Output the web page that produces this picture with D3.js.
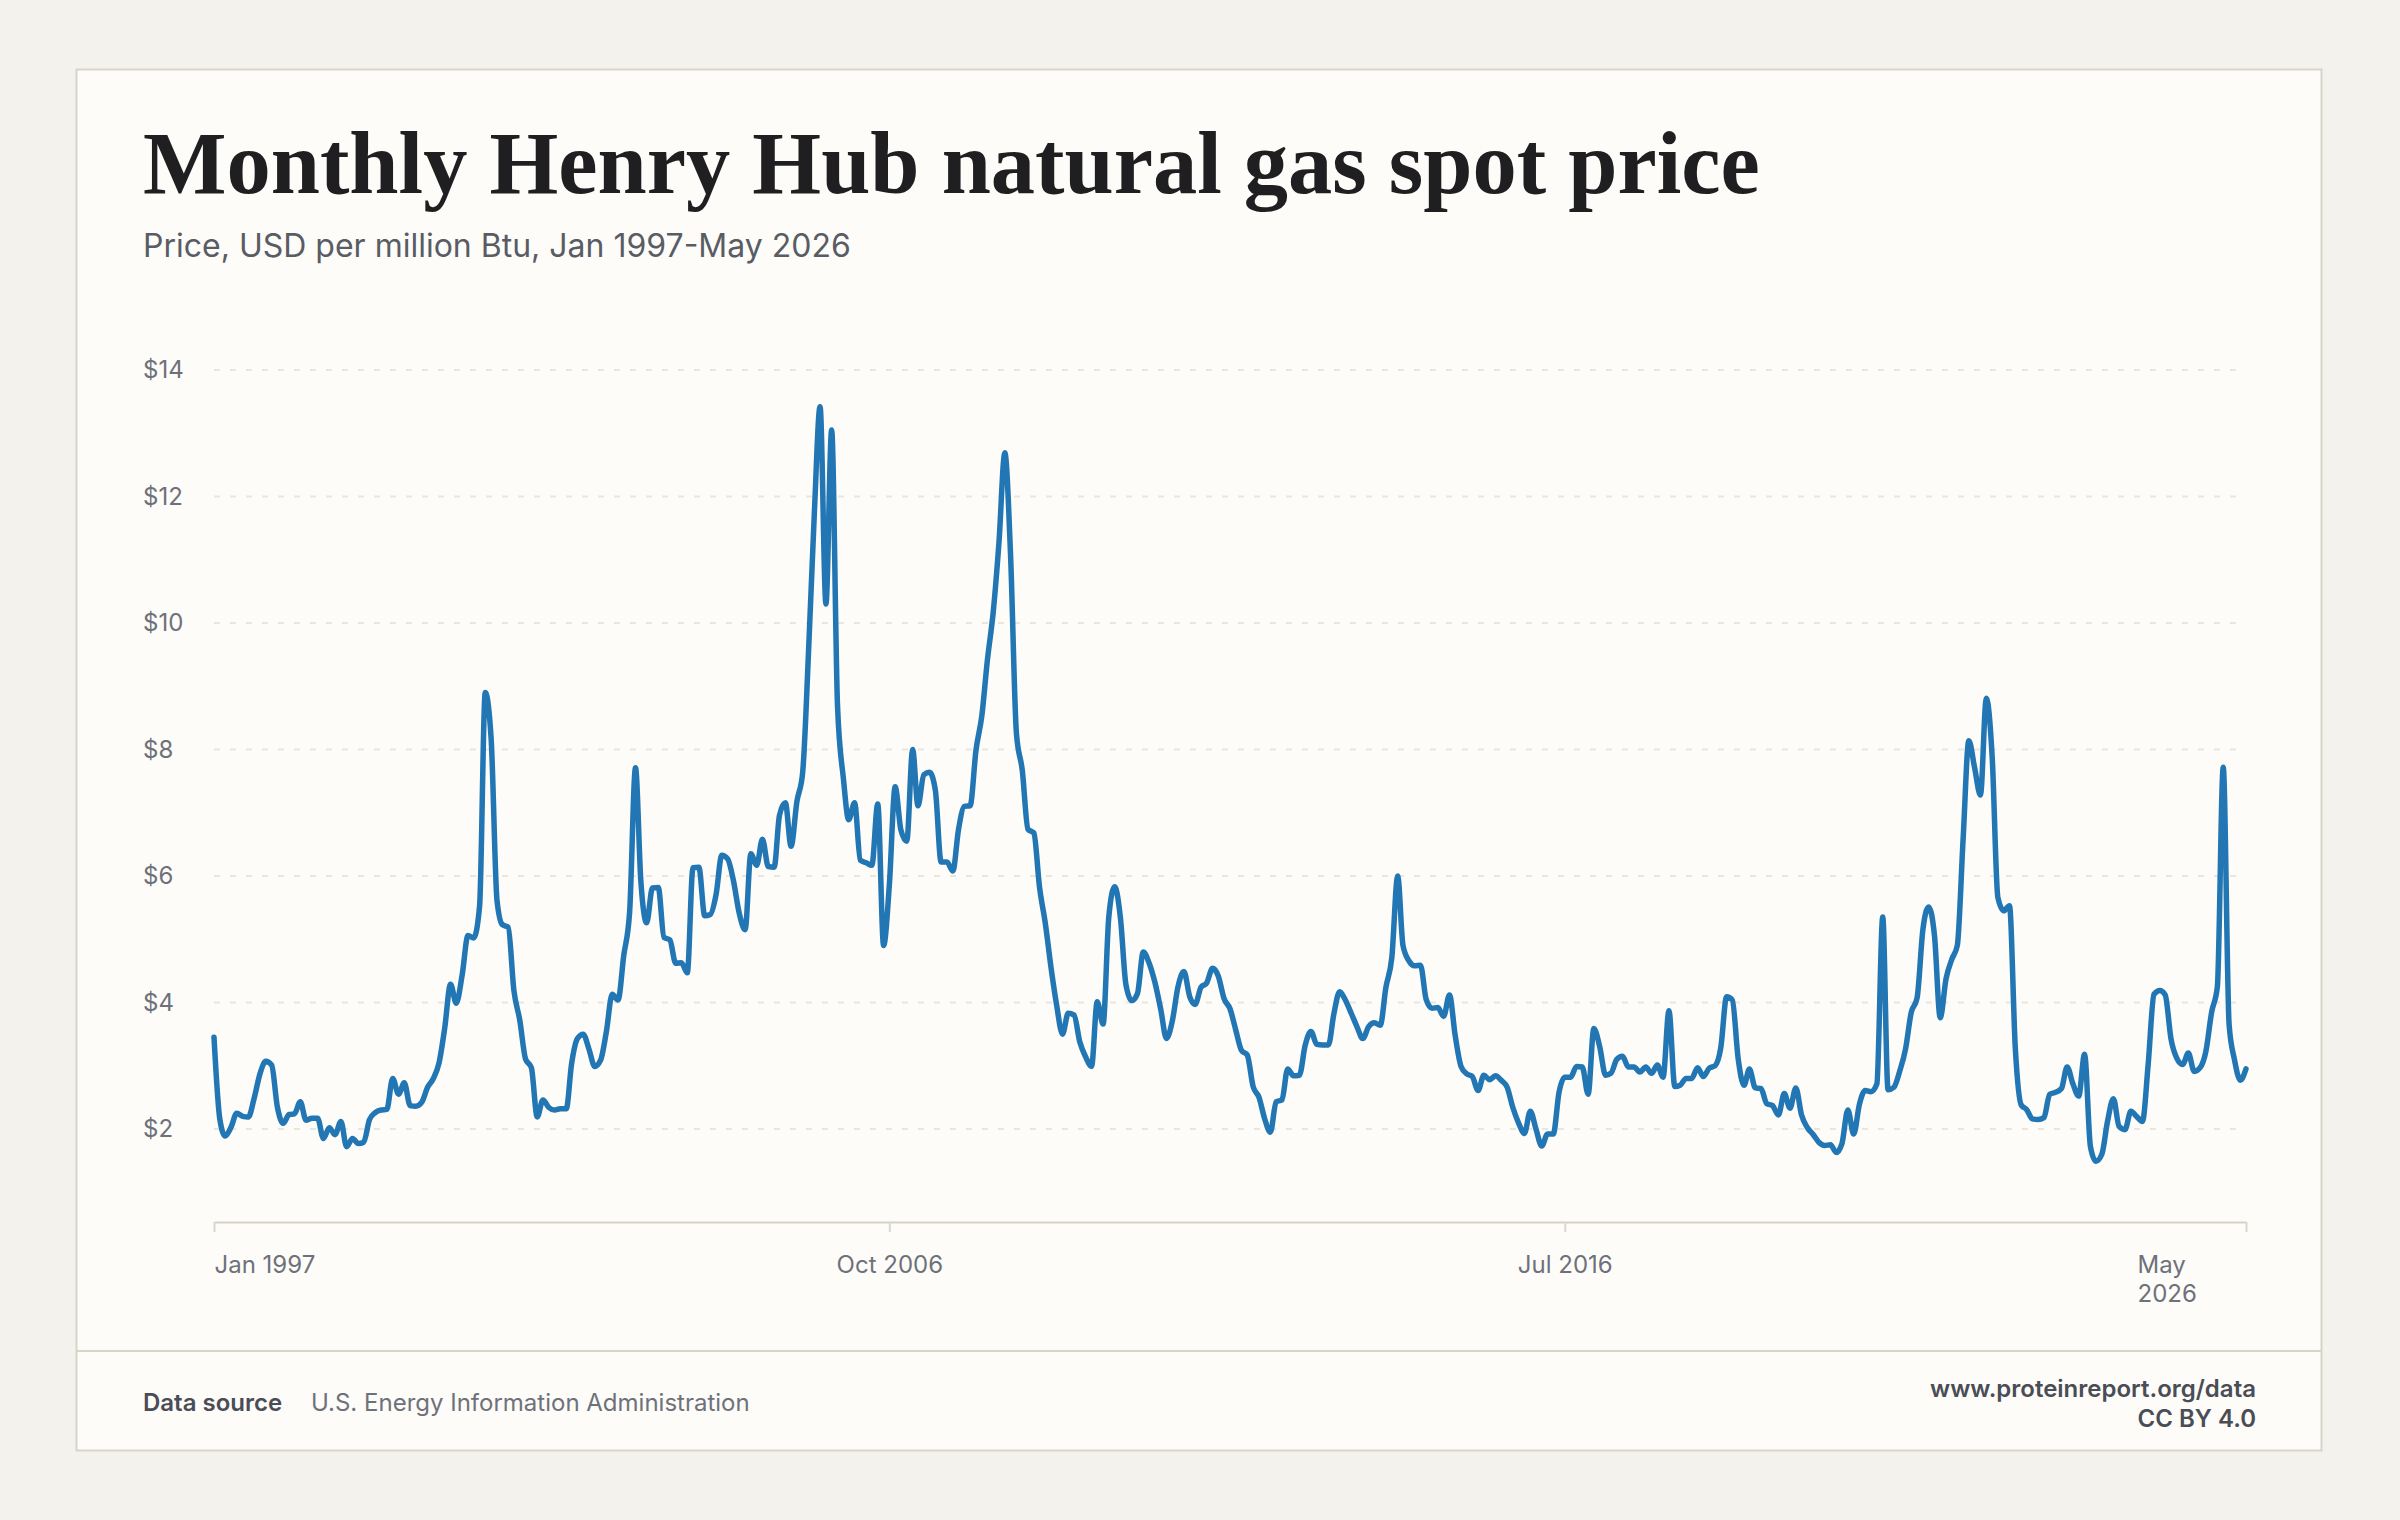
<!DOCTYPE html>
<html>
<head>
<meta charset="utf-8">
<style>
  html, body { margin: 0; padding: 0; background: #f4f2ed; }
  svg { display: block; }
  .grid line { stroke: #e9e6de; stroke-width: 2; stroke-dasharray: 6 10; }
  .ylab { font-family: Inter, "Noto Sans", sans-serif; font-size: 24px; fill: #6e717a; }
  .x-axis text { font-family: Inter, "Noto Sans", sans-serif; font-size: 24px; fill: #6e717a; }
  .x-axis .domain { stroke: #d6d1c4; stroke-width: 2; }
  .x-axis .tick line { stroke: #d9d7d0; stroke-width: 2; }
  .foot { font-family: Inter, "Noto Sans", sans-serif; font-size: 24px; }
</style>
</head>
<body>
<script src="https://d3js.org/d3.v7.min.js"></script>
<script>
var width = 2400, height = 1520;

// monthly Henry Hub spot price, USD per million Btu, starting Jan 1997
var startMonth = "1997-01";
var prices = [
  3.45, 2.15, 1.89, 2.03, 2.25, 2.20, 2.19, 2.49, 2.88, 3.07, 3.01, 2.35,   // 1997
  2.09, 2.23, 2.24, 2.43, 2.14, 2.17, 2.17, 1.85, 2.02, 1.91, 2.12, 1.72,   // 1998
  1.85, 1.77, 1.79, 2.15, 2.26, 2.30, 2.31, 2.80, 2.55, 2.73, 2.37, 2.36,   // 1999
  2.42, 2.66, 2.79, 3.04, 3.59, 4.29, 3.99, 4.43, 5.06, 5.02, 5.52, 8.90,   // 2000
  8.17, 5.61, 5.23, 5.19, 4.19, 3.72, 3.11, 2.97, 2.19, 2.46, 2.34, 2.30,   // 2001
  2.32, 2.32, 3.03, 3.43, 3.50, 3.26, 2.99, 3.09, 3.55, 4.13, 4.04, 4.74,   // 2002
  5.43, 7.71, 5.93, 5.26, 5.81, 5.82, 5.03, 4.99, 4.62, 4.63, 4.47, 6.13,   // 2003
  6.14, 5.37, 5.39, 5.71, 6.33, 6.27, 5.93, 5.41, 5.15, 6.35, 6.17, 6.58,   // 2004
  6.15, 6.14, 6.96, 7.16, 6.47, 7.18, 7.63, 9.53, 11.75, 13.42, 10.30, 13.05, // 2005
  8.69, 7.54, 6.89, 7.16, 6.25, 6.21, 6.17, 7.14, 4.90, 5.85, 7.41, 6.73,   // 2006
  6.55, 8.00, 7.11, 7.60, 7.64, 7.35, 6.22, 6.22, 6.08, 6.74, 7.10, 7.11,   // 2007
  7.99, 8.54, 9.41, 10.18, 11.27, 12.69, 11.09, 8.26, 7.67, 6.74, 6.68, 5.82, // 2008
  5.24, 4.52, 3.96, 3.50, 3.83, 3.80, 3.38, 3.14, 2.99, 4.01, 3.66, 5.35,   // 2009
  5.83, 5.32, 4.29, 4.03, 4.14, 4.80, 4.63, 4.32, 3.89, 3.43, 3.71, 4.25,   // 2010
  4.49, 4.09, 3.97, 4.24, 4.31, 4.54, 4.42, 4.06, 3.90, 3.57, 3.24, 3.17,   // 2011
  2.67, 2.50, 2.17, 1.95, 2.43, 2.46, 2.95, 2.84, 2.85, 3.32, 3.54, 3.34,   // 2012
  3.33, 3.33, 3.81, 4.17, 4.04, 3.83, 3.62, 3.43, 3.62, 3.68, 3.64, 4.24,   // 2013
  4.71, 6.00, 4.90, 4.66, 4.58, 4.59, 4.05, 3.91, 3.92, 3.78, 4.12, 3.48,   // 2014
  2.99, 2.87, 2.83, 2.61, 2.85, 2.78, 2.84, 2.77, 2.66, 2.34, 2.09, 1.93,   // 2015
  2.28, 1.99, 1.73, 1.92, 1.92, 2.59, 2.82, 2.82, 2.99, 2.98, 2.55, 3.59,   // 2016
  3.30, 2.85, 2.88, 3.10, 3.15, 2.98, 2.98, 2.90, 2.98, 2.88, 3.01, 2.82,   // 2017
  3.87, 2.67, 2.69, 2.80, 2.80, 2.97, 2.83, 2.96, 3.00, 3.28, 4.09, 4.04,   // 2018
  3.11, 2.69, 2.95, 2.65, 2.64, 2.40, 2.37, 2.22, 2.56, 2.33, 2.65, 2.22,   // 2019
  2.02, 1.91, 1.79, 1.74, 1.75, 1.63, 1.77, 2.30, 1.92, 2.39, 2.61, 2.59,   // 2020
  2.71, 5.35, 2.62, 2.66, 2.91, 3.26, 3.84, 4.07, 5.16, 5.51, 5.05, 3.76,   // 2021
  4.38, 4.69, 4.90, 6.60, 8.14, 7.70, 7.28, 8.81, 7.88, 5.66, 5.45, 5.53,   // 2022
  3.27, 2.38, 2.31, 2.16, 2.15, 2.18, 2.55, 2.58, 2.64, 2.98, 2.71, 2.52,   // 2023
  3.18, 1.72, 1.49, 1.60, 2.12, 2.48, 2.04, 1.99, 2.28, 2.20, 2.12, 3.01,   // 2024
  4.13, 4.19, 4.12, 3.42, 3.12, 3.02, 3.20, 2.91, 2.97, 3.22, 3.85, 4.25,   // 2025
  7.72, 3.65, 3.10, 2.77, 2.95                                              // 2026
];

var yTicks = [2, 4, 6, 8, 10, 12, 14];
var xTickMonths = ["1997-01", "2006-10", "2016-07", "2026-05"];
var xTickLabels = ["Jan 1997", "Oct 2006", "Jul 2016", "May 2026"];

var parseMonth = d3.timeParse("%Y-%m");
var start = parseMonth(startMonth);
var data = prices.map(function(v, i) { return { date: d3.timeMonth.offset(start, i), value: v }; });

var svg = d3.select("body").append("svg")
    .attr("width", width)
    .attr("height", height);

// card
svg.append("rect")
    .attr("x", 76.5).attr("y", 69.5)
    .attr("width", 2245).attr("height", 1381)
    .attr("fill", "#fdfcf8")
    .attr("stroke", "#d9d4c8")
    .attr("stroke-width", 2);

// title + subtitle
var title = svg.append("text")
    .attr("x", 143).attr("y", 193)
    .style("font-family", "'Liberation Serif', 'DejaVu Serif', serif")
    .style("font-weight", "bold")
    .style("font-size", "80px")
    .attr("fill", "#1f1f22")
    .text("Monthly Henry Hub natural gas spot price");
var tw = title.node().getComputedTextLength();
title.style("font-size", (80 * 1617 / tw) + "px");

svg.append("text")
    .attr("x", 143).attr("y", 257)
    .style("font-family", "Inter, 'Noto Sans', sans-serif")
    .style("font-size", "32px")
    .attr("fill", "#595c65")
    .text("Price, USD per million Btu, Jan 1997-May 2026");

// scales
var x = d3.scaleTime()
    .domain(d3.extent(data, function(d) { return d.date; }))
    .range([214, 2246]);

var y = d3.scaleLinear()
    .domain([0, 14])
    .range([1255.5, 370]);

// gridlines
var grid = svg.append("g").attr("class", "grid");
grid.selectAll("line")
    .data(yTicks)
    .enter().append("line")
    .attr("x1", 214).attr("x2", 2246)
    .attr("y1", function(d) { return y(d); })
    .attr("y2", function(d) { return y(d); });

svg.append("g").selectAll("text")
    .data(yTicks)
    .enter().append("text")
    .attr("class", "ylab")
    .attr("x", 143)
    .attr("y", function(d) { return y(d); })
    .attr("dy", "0.35em")
    .text(function(d) { return "$" + d; });

// x axis
var xTickDates = xTickMonths.map(parseMonth);
var xAxis = svg.append("g")
    .attr("class", "x-axis")
    .attr("transform", "translate(0,1222)")
    .call(d3.axisBottom(x)
        .tickValues(xTickDates)
        .tickSize(10)
        .tickSizeOuter(0)
        .tickPadding(24)
        .tickFormat(function(d, i) { return xTickLabels[i]; }));

xAxis.selectAll(".tick text").each(function(d, i) {
  var t = d3.select(this);
  if (i === 0) t.attr("text-anchor", "start");
  if (i === xTickLabels.length - 1) {
    // last label wraps onto two lines, pulled in from the edge
    var parts = xTickLabels[i].split(" ");
    t.text(null).attr("text-anchor", "start");
    t.append("tspan").attr("x", -109).text(parts[0]);
    t.append("tspan").attr("x", -109).attr("dy", "1.2em").text(parts[1]);
  }
});

// the price line
var line = d3.line()
    .curve(d3.curveMonotoneX)
    .x(function(d) { return x(d.date); })
    .y(function(d) { return y(d.value); });

svg.append("path")
    .datum(data)
    .attr("d", line)
    .attr("fill", "none")
    .attr("stroke", "#2176b3")
    .attr("stroke-width", 5.5)
    .attr("stroke-linejoin", "round")
    .attr("stroke-linecap", "round");

// footer
svg.append("line")
    .attr("x1", 77).attr("x2", 2321)
    .attr("y1", 1351).attr("y2", 1351)
    .attr("stroke", "#d9d4c8")
    .attr("stroke-width", 2);

svg.append("text")
    .attr("class", "foot")
    .attr("x", 143).attr("y", 1411)
    .style("font-weight", 600)
    .attr("fill", "#4a4d56")
    .text("Data source");

svg.append("text")
    .attr("class", "foot")
    .attr("x", 311).attr("y", 1411)
    .attr("fill", "#6e717a")
    .text("U.S. Energy Information Administration");

svg.append("text")
    .attr("class", "foot")
    .attr("x", 2256).attr("y", 1397)
    .attr("text-anchor", "end")
    .style("font-weight", 600)
    .attr("fill", "#4a4d56")
    .text("www.proteinreport.org/data");

svg.append("text")
    .attr("class", "foot")
    .attr("x", 2256).attr("y", 1427)
    .attr("text-anchor", "end")
    .style("font-weight", 600)
    .attr("fill", "#4a4d56")
    .text("CC BY 4.0");
</script>
</body>
</html>
